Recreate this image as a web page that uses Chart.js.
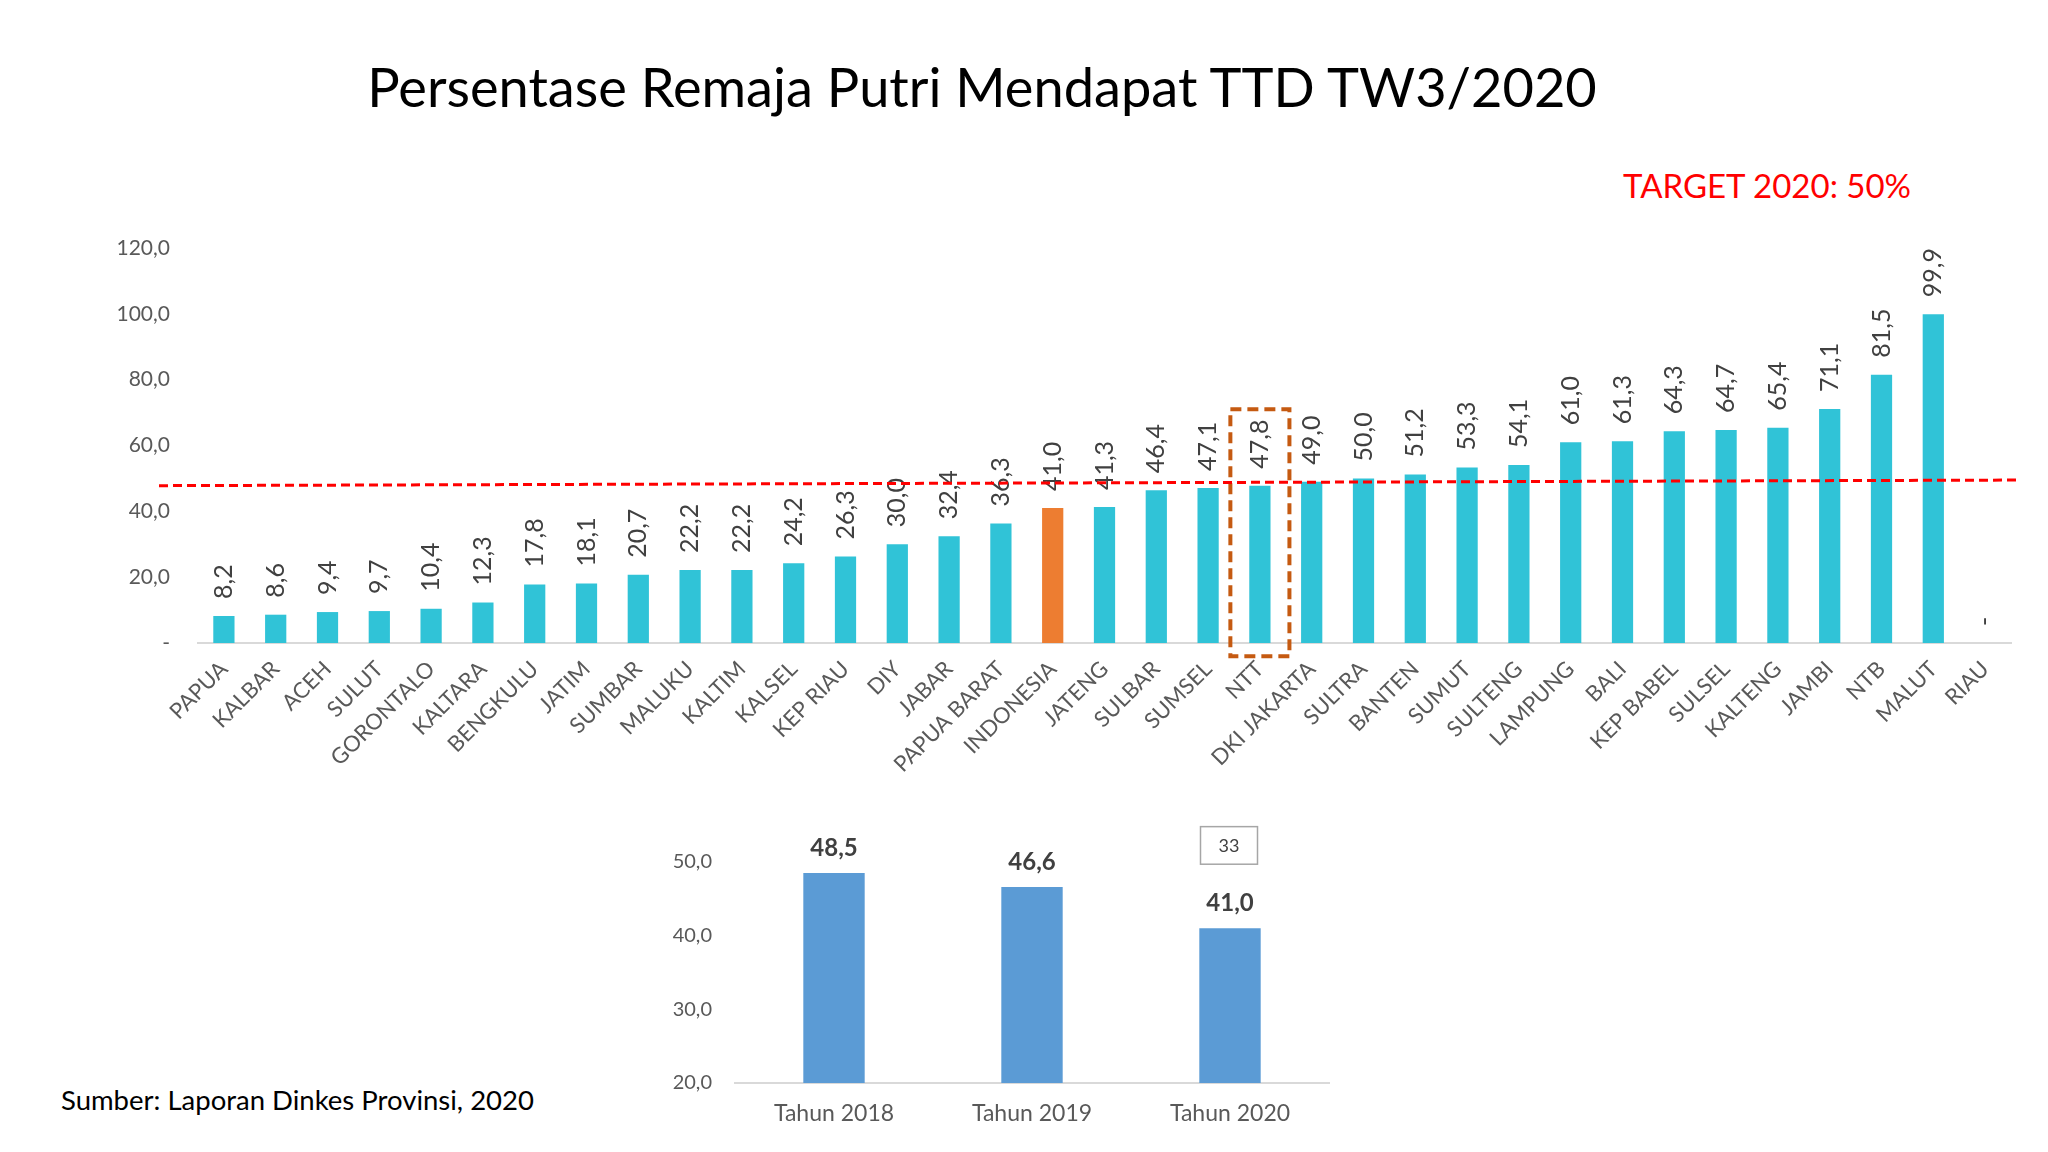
<!DOCTYPE html>
<html>
<head>
<meta charset="utf-8">
<script src="https://cdn.jsdelivr.net/npm/chart.js@4.4.0/dist/chart.umd.min.js"></script>
<style>
html,body{margin:0;padding:0;background:#fff;width:2048px;height:1152px;overflow:hidden;font-family:Lato,"Open Sans",sans-serif;}
#title{position:absolute;left:0;top:52px;width:1964px;text-align:center;font-size:54.2px;line-height:70px;color:#000;white-space:nowrap;}
#target{position:absolute;left:1623px;top:165px;font-size:33px;line-height:40px;color:#FF0000;white-space:nowrap;}
#source{position:absolute;left:61px;top:1083px;font-size:27.5px;line-height:34px;color:#000;white-space:nowrap;}
#main{position:absolute;left:0;top:200px;}
#trend{position:absolute;left:600px;top:800px;}
</style>
</head>
<body>
<div id="title">Persentase Remaja Putri Mendapat TTD TW3/2020</div>
<div id="target">TARGET 2020: 50%</div>
<canvas id="main" width="2048" height="600"></canvas>
<canvas id="trend" width="800" height="352"></canvas>
<div id="source">Sumber: Laporan Dinkes Provinsi, 2020</div>
<script>
// ---- data ----
const provinces = ["PAPUA","KALBAR","ACEH","SULUT","GORONTALO","KALTARA","BENGKULU","JATIM","SUMBAR","MALUKU","KALTIM","KALSEL","KEP RIAU","DIY","JABAR","PAPUA BARAT","INDONESIA","JATENG","SULBAR","SUMSEL","NTT","DKI JAKARTA","SULTRA","BANTEN","SUMUT","SULTENG","LAMPUNG","BALI","KEP BABEL","SULSEL","KALTENG","JAMBI","NTB","MALUT","RIAU"];
const coverage = [8.2,8.6,9.4,9.7,10.4,12.3,17.8,18.1,20.7,22.2,22.2,24.2,26.3,30.0,32.4,36.3,41.0,41.3,46.4,47.1,47.8,49.0,50.0,51.2,53.3,54.1,61.0,61.3,64.3,64.7,65.4,71.1,81.5,99.9,0];
const mainTicks = [0,20,40,60,80,100,120];
const targetLine = [47.8, 49.5];      // drawn target line (left, right values)
const highlightProvince = "NTT";
const highlightRange = [-4, 71];      // value range enclosed by the dashed box
const nationalName = "INDONESIA";

const years = ["Tahun 2018","Tahun 2019","Tahun 2020"];
const national = [48.5, 46.6, 41.0];
const trendTicks = [20,30,40,50];
const boxedNote = "33";
const boxedNoteRange = [49.7, 54.8];

// ---- helpers ----
const fmt = v => Number(v).toFixed(1).replace('.', ',');
const FONT = 'Lato, "Open Sans", sans-serif';
const TEAL = '#30C3D7', ORANGE = '#ED7D31', BLUE = '#5B9BD5';

const valueLabels = {
  id: 'valueLabels',
  afterDatasetsDraw(chart, args, opts) {
    const ctx = chart.ctx;
    const meta = chart.getDatasetMeta(0);
    const data = chart.data.datasets[0].data;
    ctx.save();
    ctx.font = opts.font;
    ctx.fillStyle = opts.color;
    meta.data.forEach((bar, i) => {
      const v = data[i];
      const txt = v === 0 ? '-' : fmt(v);
      if (opts.rotate) {
        ctx.save();
        ctx.translate(bar.x, bar.y - opts.offset);
        ctx.rotate(-Math.PI / 2);
        ctx.textAlign = 'left';
        ctx.textBaseline = 'middle';
        ctx.fillText(txt, 0, 0);
        ctx.restore();
      } else {
        ctx.textAlign = 'center';
        ctx.textBaseline = 'alphabetic';
        ctx.fillText(txt, bar.x, bar.y - opts.offset);
      }
    });
    ctx.restore();
  }
};

const mainExtras = {
  id: 'mainExtras',
  afterDatasetsDraw(chart) {
    const ctx = chart.ctx, x = chart.scales.x, y = chart.scales.y, area = chart.chartArea;
    // highlight box
    const idx = provinces.indexOf(highlightProvince);
    const cx = x.getPixelForValue(idx);
    const half = x.width / provinces.length * 0.57;
    const top = y.getPixelForValue(highlightRange[1]);
    const bot = y.getPixelForValue(highlightRange[0]);
    ctx.save();
    ctx.strokeStyle = '#C55A11';
    ctx.lineWidth = 4;
    ctx.setLineDash([11, 6]);
    ctx.strokeRect(cx - half, top, half * 2, bot - top);
    ctx.restore();
    // target line
    ctx.save();
    ctx.strokeStyle = '#FF0000';
    ctx.lineWidth = 3;
    ctx.setLineDash([9, 5]);
    ctx.beginPath();
    ctx.moveTo(area.left - 39, y.getPixelForValue(targetLine[0]));
    ctx.lineTo(area.right + 7, y.getPixelForValue(targetLine[1]));
    ctx.stroke();
    ctx.restore();
  }
};

new Chart(document.getElementById('main'), {
  type: 'bar',
  data: {
    labels: provinces,
    datasets: [{
      data: coverage,
      backgroundColor: provinces.map(p => p === nationalName ? ORANGE : TEAL),
      barPercentage: 0.41,
      categoryPercentage: 1
    }]
  },
  options: {
    responsive: false,
    animation: false,
    layout: { padding: { top: 48, right: 37, left: 0, bottom: 0 } },
    plugins: {
      legend: { display: false },
      tooltip: { enabled: false },
      valueLabels: { font: '25px ' + FONT, color: '#404040', offset: 17, rotate: true }
    },
    scales: {
      x: {
        grid: { display: false, drawTicks: false },
        border: { display: true, color: '#D9D9D9', width: 2 },
        ticks: { autoSkip: false, minRotation: 45, maxRotation: 45, padding: 13, color: '#595959', font: { family: FONT, size: 22 } },
        afterFit(s) { s.height = 157; }
      },
      y: {
        min: 0, max: 120,
        afterBuildTicks(s) { s.ticks = mainTicks.map(v => ({ value: v })); },
        ticks: { padding: 28, color: '#595959', font: { family: FONT, size: 21 }, callback: v => v === 0 ? '-' : fmt(v) },
        grid: { display: false, drawTicks: false },
        border: { display: false },
        afterFit(s) { s.width = 198; }
      }
    }
  },
  plugins: [valueLabels, mainExtras]
});

const trendExtras = {
  id: 'trendExtras',
  afterDatasetsDraw(chart) {
    const ctx = chart.ctx, x = chart.scales.x, y = chart.scales.y;
    const cx = x.getPixelForValue(2) - 1;
    const top = y.getPixelForValue(boxedNoteRange[1]);
    const bot = y.getPixelForValue(boxedNoteRange[0]);
    const w = 57;
    ctx.save();
    ctx.fillStyle = '#fff';
    ctx.fillRect(cx - w / 2, top, w, bot - top);
    ctx.strokeStyle = '#A6A6A6';
    ctx.lineWidth = 1.5;
    ctx.strokeRect(cx - w / 2, top, w, bot - top);
    ctx.fillStyle = '#404040';
    ctx.font = '18px ' + FONT;
    ctx.textAlign = 'center';
    ctx.textBaseline = 'middle';
    ctx.fillText(boxedNote, cx, (top + bot) / 2 + 1);
    ctx.restore();
  }
};

new Chart(document.getElementById('trend'), {
  type: 'bar',
  data: {
    labels: years,
    datasets: [{ data: national, backgroundColor: BLUE, barPercentage: 0.31, categoryPercentage: 1 }]
  },
  options: {
    responsive: false,
    animation: false,
    layout: { padding: { top: 62, right: 71, left: 0, bottom: 0 } },
    plugins: {
      legend: { display: false },
      tooltip: { enabled: false },
      valueLabels: { font: 'bold 24px ' + FONT, color: '#404040', offset: 17, rotate: false }
    },
    scales: {
      x: {
        grid: { display: false, drawTicks: false },
        border: { display: true, color: '#D9D9D9', width: 2 },
        ticks: { padding: 17, color: '#595959', font: { family: FONT, size: 23 } },
        afterFit(s) { s.height = 69; }
      },
      y: {
        min: 20, max: 50,
        afterBuildTicks(s) { s.ticks = trendTicks.map(v => ({ value: v })); },
        ticks: { padding: 23, color: '#595959', font: { family: FONT, size: 20 }, callback: v => fmt(v) },
        grid: { display: false, drawTicks: false },
        border: { display: false },
        afterFit(s) { s.width = 135; }
      }
    }
  },
  plugins: [valueLabels, trendExtras]
});
</script>
</body>
</html>
